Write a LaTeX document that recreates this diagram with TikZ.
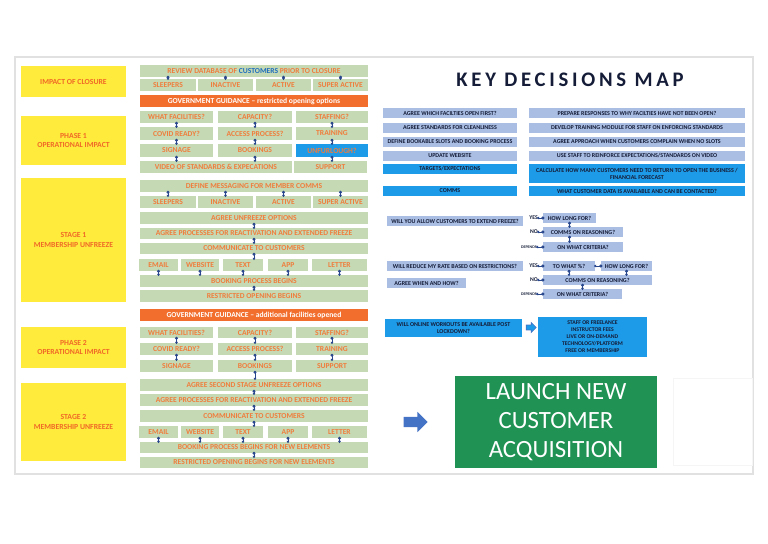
\documentclass[tikz,border=0pt]{standalone}
\usepackage{fontspec}
\setmainfont{Carlito}
\newfontfamily\titlefont[LetterSpace=18]{Carlito}
\usepackage{xcolor}
\usetikzlibrary{positioning,arrows.meta,shapes.arrows}
\definecolor{sage}{RGB}{197,217,180}
\definecolor{sagetext}{RGB}{240,125,60}
\definecolor{lemon}{RGB}{255,235,59}
\definecolor{lemontext}{RGB}{240,105,40}
\definecolor{guide}{RGB}{242,110,45}
\definecolor{sky}{RGB}{30,155,232}
\definecolor{pale}{RGB}{170,190,228}
\definecolor{ink}{RGB}{20,28,55}
\definecolor{custblue}{RGB}{30,110,190}
\definecolor{launch}{RGB}{31,146,84}
\definecolor{arrowblue}{RGB}{68,114,196}
\definecolor{dotblue}{RGB}{40,70,140}
\definecolor{frame}{RGB}{225,225,225}

\begin{document}
\begin{tikzpicture}[x=0.75pt,y=-0.75pt,
    cell/.style n args={4}{at={({(#1+#3)/2},{(#2+#4)/2})},
      minimum width={(#3-#1)*0.75pt}, minimum height={(#4-#2)*0.75pt}},
    gbox/.style={fill=sage, text=sagetext, inner sep=0pt, outer sep=0pt,
      font=\bfseries\fontsize{5.7}{6.5}\selectfont},
    ybox/.style={fill=lemon, text=lemontext, inner sep=0pt, outer sep=0pt, align=center,
      font=\bfseries\fontsize{5.8}{7.2}\selectfont},
    obox/.style={fill=guide, text=white, inner sep=0pt, outer sep=0pt,
      font=\bfseries\fontsize{5.7}{6.5}\selectfont},
    lbox/.style={fill=pale, text=ink, inner sep=0pt, outer sep=0pt, align=center,
      font=\bfseries\fontsize{4.5}{5.3}\selectfont},
    cbox/.style={lbox, fill=sky},
    lab/.style={text=ink, anchor=east, inner sep=0pt,
      font=\bfseries\fontsize{4.3}{5}\selectfont},
    conn/.style={dotblue, line width=0.6pt,
      {Circle[length=2.2pt]}-{Latex[length=1.8pt,width=2.4pt]},
      shorten <=-1pt, shorten >=-1pt}]
      \useasboundingbox (0,0) rectangle (768,543);
      \draw[frame, line width=0.8pt] (15,57) rectangle (753,474);
      % nodes %
      \node[ybox, cell={21}{66}{126}{97}] (impact) {IMPACT OF CLOSURE};
      \node[ybox, cell={21}{116}{126}{165}] (phase1) {PHASE 1\\OPERATIONAL IMPACT};
      \node[ybox, cell={21}{178}{126}{302}] (stage1) {STAGE 1\\MEMBERSHIP UNFREEZE};
      \node[ybox, cell={21}{327}{126}{368}] (phase2) {PHASE 2\\OPERATIONAL IMPACT};
      \node[ybox, cell={21}{383}{126}{461}] (stage2) {STAGE 2\\MEMBERSHIP UNFREEZE};
      % closure %
      \node[gbox, cell={140}{65}{368}{77}] (rev) {REVIEW DATABASE OF \textcolor{custblue}{CUSTOMERS} PRIOR TO CLOSURE};
      \node[gbox, cell={140}{79}{196}{91}] (slA) {SLEEPERS};
      \node[gbox, cell={198}{79}{253}{91}] (inA) {INACTIVE};
      \node[gbox, cell={256}{79}{311}{91}] (acA) {ACTIVE};
      \node[gbox, cell={313}{79}{368}{91}] (saA) {SUPER ACTIVE};
      \node[obox, cell={140}{95}{368}{107}] (govA) {GOVERNMENT GUIDANCE -- restricted opening options};
      % phase 1 %
      \node[gbox, cell={140}{111}{213}{123}] (wfA) {WHAT FACILITIES?};
      \node[gbox, cell={218}{111}{292}{123}] (cpA) {CAPACITY?};
      \node[gbox, cell={296}{111}{368}{123}] (stA) {STAFFING?};
      \node[gbox, cell={140}{127}{213}{140}] (cvA) {COVID READY?};
      \node[gbox, cell={218}{127}{292}{140}] (axA) {ACCESS PROCESS?};
      \node[gbox, cell={296}{127}{368}{140}] (trA) {TRAINING};
      \node[gbox, cell={140}{144}{213}{157}] (sgA) {SIGNAGE};
      \node[gbox, cell={218}{144}{292}{157}] (bkA) {BOOKINGS};
      \node[gbox, fill=sky, cell={296}{144}{368}{157}] (ufA) {UNFURLOUGH?};
      \node[gbox, cell={140}{161}{292}{173}] (vdA) {VIDEO OF STANDARDS \& EXPECATIONS};
      \node[gbox, cell={294}{161}{367}{173}] (spA) {SUPPORT};
      % stage 1 %
      \node[gbox, cell={140}{180}{368}{192}] (dmB) {DEFINE MESSAGING FOR MEMBER COMMS};
      \node[gbox, cell={140}{196}{196}{208}] (slB) {SLEEPERS};
      \node[gbox, cell={198}{196}{253}{208}] (inB) {INACTIVE};
      \node[gbox, cell={256}{196}{311}{208}] (acB) {ACTIVE};
      \node[gbox, cell={313}{196}{368}{208}] (saB) {SUPER ACTIVE};
      \node[gbox, cell={140}{212}{368}{224}] (auB) {AGREE UNFREEZE OPTIONS};
      \node[gbox, cell={140}{228}{368}{239}] (prB) {AGREE PROCESSES FOR REACTIVATION AND EXTENDED FREEZE};
      \node[gbox, cell={140}{243}{368}{254}] (ccB) {COMMUNICATE TO CUSTOMERS};
      \node[gbox, cell={139}{259}{178}{271}] (emB) {EMAIL};
      \node[gbox, cell={181}{259}{219}{271}] (wsB) {WEBSITE};
      \node[gbox, cell={223}{259}{263}{271}] (txB) {TEXT};
      \node[gbox, cell={268}{259}{308}{271}] (apB) {APP};
      \node[gbox, cell={312}{259}{367}{271}] (ltB) {LETTER};
      \node[gbox, cell={140}{275}{368}{287}] (bpB) {BOOKING PROCESS BEGINS};
      \node[gbox, cell={140}{290}{368}{302}] (roB) {RESTRICTED OPENING BEGINS};
      % phase 2 %
      \node[obox, cell={140}{309}{368}{321}] (govC) {GOVERNMENT GUIDANCE -- additional facilities opened};
      \node[gbox, cell={140}{327}{213}{338}] (wfC) {WHAT FACILITIES?};
      \node[gbox, cell={218}{327}{292}{338}] (cpC) {CAPACITY?};
      \node[gbox, cell={296}{327}{368}{338}] (stC) {STAFFING?};
      \node[gbox, cell={140}{343}{213}{355}] (cvC) {COVID READY?};
      \node[gbox, cell={218}{343}{292}{355}] (axC) {ACCESS PROCESS?};
      \node[gbox, cell={296}{343}{368}{355}] (trC) {TRAINING};
      \node[gbox, cell={140}{360}{213}{372}] (sgC) {SIGNAGE};
      \node[gbox, cell={218}{360}{292}{372}] (bkC) {BOOKINGS};
      \node[gbox, cell={296}{360}{368}{372}] (spC) {SUPPORT};
      % stage 2 %
      \node[gbox, cell={140}{379}{368}{391}] (asD) {AGREE SECOND STAGE UNFREEZE OPTIONS};
      \node[gbox, cell={140}{394}{368}{406}] (prD) {AGREE PROCESSES FOR REACTIVATION AND EXTENDED FREEZE};
      \node[gbox, cell={140}{410}{368}{422}] (ccD) {COMMUNICATE TO CUSTOMERS};
      \node[gbox, cell={139}{426}{178}{438}] (emD) {EMAIL};
      \node[gbox, cell={181}{426}{219}{438}] (wsD) {WEBSITE};
      \node[gbox, cell={223}{426}{263}{438}] (txD) {TEXT};
      \node[gbox, cell={268}{426}{308}{438}] (apD) {APP};
      \node[gbox, cell={312}{426}{367}{438}] (ltD) {LETTER};
      \node[gbox, cell={140}{442}{368}{453}] (bpD) {BOOKING PROCESS BEGINS FOR NEW ELEMENTS};
      \node[gbox, cell={140}{457}{368}{468}] (roD) {RESTRICTED OPENING BEGINS FOR NEW ELEMENTS};
      % decisions %
      \node[text=ink, font=\titlefont\bfseries\fontsize{15.5}{18}\selectfont] (title) at (570,80) {KEY DECISIONS MAP};
      \node[lbox, cell={383}{108}{517}{118}] (k1) {AGREE WHICH FACILTIES OPEN FIRST?};
      \node[lbox, cell={383}{123}{517}{133}] (k2) {AGREE STANDARDS FOR CLEANLINESS};
      \node[lbox, cell={383}{137}{517}{147}] (k3) {DEFINE BOOKABLE SLOTS AND BOOKING PROCESS};
      \node[lbox, cell={383}{151}{517}{161}] (k4) {UPDATE WEBSITE};
      \node[cbox, cell={383}{164}{517}{174}] (k5) {TARGETS/EXPECTATIONS};
      \node[cbox, cell={383}{186}{517}{196}] (k6) {COMMS};
      \node[lbox, cell={529}{108}{745}{118}] (m1) {PREPARE RESPONSES TO WHY FACILTIES HAVE NOT BEEN OPEN?};
      \node[lbox, cell={529}{123}{745}{133}] (m2) {DEVELOP TRAINING MODULE FOR STAFF ON ENFORCING STANDARDS};
      \node[lbox, cell={529}{137}{745}{147}] (m3) {AGREE APPROACH WHEN CUSTOMERS COMPLAIN WHEN NO SLOTS};
      \node[lbox, cell={529}{151}{745}{161}] (m4) {USE STAFF TO REINFORCE EXPECTATIONS/STANDARDS ON VIDEO};
      \node[cbox, cell={529}{164}{745}{183}] (m5) {CALCULATE HOW MANY CUSTOMERS NEED TO RETURN TO OPEN THE BUSINESS /\\FINANCIAL FORECAST};
      \node[cbox, cell={529}{186}{745}{196}] (m6) {WHAT CUSTOMER DATA IS AVAILABLE AND CAN BE CONTACTED?};
      % freeze question %
      \node[lbox, cell={387}{216}{523}{226}] (q1) {WILL YOU ALLOW CUSTOMERS TO EXTEND FREEZE?};
      \node[lbox, cell={543}{213}{596}{223}] (hl1) {HOW LONG FOR?};
      \node[lbox, cell={543}{227}{623}{237}] (cr1) {COMMS ON REASONING?};
      \node[lbox, cell={543}{242}{623}{252}] (wc1) {ON WHAT CRITERIA?};
      \node[lab] (yes1) at (538,218) {YES};
      \node[lab] (no1) at (538,232) {NO};
      \node[lab, font=\bfseries\fontsize{3}{4}\selectfont] (dp1) at (537,247) {DEPENDS};
      % rate question %
      \node[lbox, cell={387}{261}{523}{271}] (q2) {WILL REDUCE MY RATE BASED ON RESTRICTIONS?};
      \node[lbox, cell={387}{278}{466}{288}] (q3) {AGREE WHEN AND HOW?};
      \node[lbox, cell={543}{261}{595}{271}] (tw) {TO WHAT \%?};
      \node[lbox, cell={601}{261}{652}{271}] (hl2) {HOW LONG FOR?};
      \node[lbox, cell={543}{275}{652}{285}] (cr2) {COMMS ON REASONING?};
      \node[lbox, cell={543}{289}{622}{299}] (wc2) {ON WHAT CRITERIA?};
      \node[lab] (yes2) at (538,266) {YES};
      \node[lab] (no2) at (538,280) {NO};
      \node[lab, font=\bfseries\fontsize{3}{4}\selectfont] (dp2) at (537,294) {DEPENDS};
      % online %
      \node[cbox, cell={385}{319}{522}{337}] (q4) {WILL ONLINE WORKOUTS BE AVAILABLE POST\\LOCKDOWN?};
      \node[cbox, cell={538}{317}{647}{357}, font=\bfseries\fontsize{4.3}{5.3}\selectfont] (opts) {STAFF OR FREELANCE\\INSTRUCTOR FEES\\LIVE OR ON-DEMAND\\TECHNOLOGY/PLATFORM\\FREE OR MEMBERSHIP};
      \node[single arrow, fill=sky, draw=arrowblue, line width=0.5pt, inner sep=1.6pt,
        single arrow head extend=1.9pt, minimum height=7.5pt] (oa) at (530,327.5) {};
      \node[fill=launch, text=white, align=center, inner sep=0pt,
        font=\fontsize{18.6}{21.75}\selectfont, cell={455}{376}{657}{468}] (go) {LAUNCH NEW\\CUSTOMER\\ACQUISITION};
      \node[single arrow, fill=arrowblue, inner sep=3.6pt,
        single arrow head extend=3.8pt, minimum height=18pt] (ga) at (413,422) {};
      \draw[gray!8, line width=0.6pt] (673,378) rectangle (752,465);
      % edges %
      \draw[conn] (rev.south -| slA) -- (slA.north);
      \draw[conn] (rev.south -| inA) -- (inA.north);
      \draw[conn] (rev.south -| acA) -- (acA.north);
      \draw[conn] (rev.south -| saA) -- (saA.north);
      \draw[conn] (wfA) -- (cvA);
      \draw[conn] (cpA) -- (axA);
      \draw[conn] (stA) -- (trA);
      \draw[conn] (cvA) -- (sgA);
      \draw[conn] (axA) -- (bkA);
      \draw[conn] (trA) -- (ufA);
      \draw[conn] (sgA.south) -- (sgA.south |- vdA.north);
      \draw[conn] (bkA.south) -- (bkA.south |- vdA.north);
      \draw[conn] (ufA.south) -- (ufA.south |- spA.north);
      \draw[conn] (dmB.south -| slB) -- (slB.north);
      \draw[conn] (dmB.south -| inB) -- (inB.north);
      \draw[conn] (dmB.south -| acB) -- (acB.north);
      \draw[conn] (dmB.south -| saB) -- (saB.north);
      \draw[conn] (auB) -- (prB);
      \draw[conn] (prB) -- (ccB);
      \draw[conn] (ccB.south) -- (ccB.south |- txB.north);
      \draw[conn] (emB.south) -- (emB.south |- bpB.north);
      \draw[conn] (wsB.south) -- (wsB.south |- bpB.north);
      \draw[conn] (txB.south) -- (txB.south |- bpB.north);
      \draw[conn] (apB.south) -- (apB.south |- bpB.north);
      \draw[conn] (ltB.south) -- (ltB.south |- bpB.north);
      \draw[conn] (bpB) -- (roB);
      \draw[conn] (wfC) -- (cvC);
      \draw[conn] (cpC) -- (axC);
      \draw[conn] (stC) -- (trC);
      \draw[conn] (cvC) -- (sgC);
      \draw[conn] (axC) -- (bkC);
      \draw[conn] (trC) -- (spC);
      \draw[conn] (bkC.south) -- (bkC.south |- asD.north);
      \draw[conn] (asD) -- (prD);
      \draw[conn] (prD) -- (ccD);
      \draw[conn] (ccD.south) -- (ccD.south |- txD.north);
      \draw[conn] (emD.south) -- (emD.south |- bpD.north);
      \draw[conn] (wsD.south) -- (wsD.south |- bpD.north);
      \draw[conn] (txD.south) -- (txD.south |- bpD.north);
      \draw[conn] (apD.south) -- (apD.south |- bpD.north);
      \draw[conn] (ltD.south) -- (ltD.south |- bpD.north);
      \draw[conn] (bpD) -- (roD);
      \draw[conn] (hl1.west) -- (yes1.east);
      \draw[conn] (cr1.west) -- (no1.east);
      \draw[conn] (wc1.west) -- (dp1.east);
      \draw[conn] (hl1.south) -- (hl1.south |- cr1.north);
      \draw[conn] (cr1.south -| hl1) -- (wc1.north -| hl1);
      \draw[conn] (tw.west) -- (yes2.east);
      \draw[conn] (hl2.west) -- (tw.east);
      \draw[conn] (cr2.west) -- (no2.east);
      \draw[conn] (wc2.west) -- (dp2.east);
      \draw[conn] (tw.south) -- (tw.south |- cr2.north);
      \draw[conn] (hl2.south) -- (hl2.south |- cr2.north);
      \draw[conn] (cr2.south -| wc2) -- (wc2.north);
    \end{tikzpicture}
\end{document}
